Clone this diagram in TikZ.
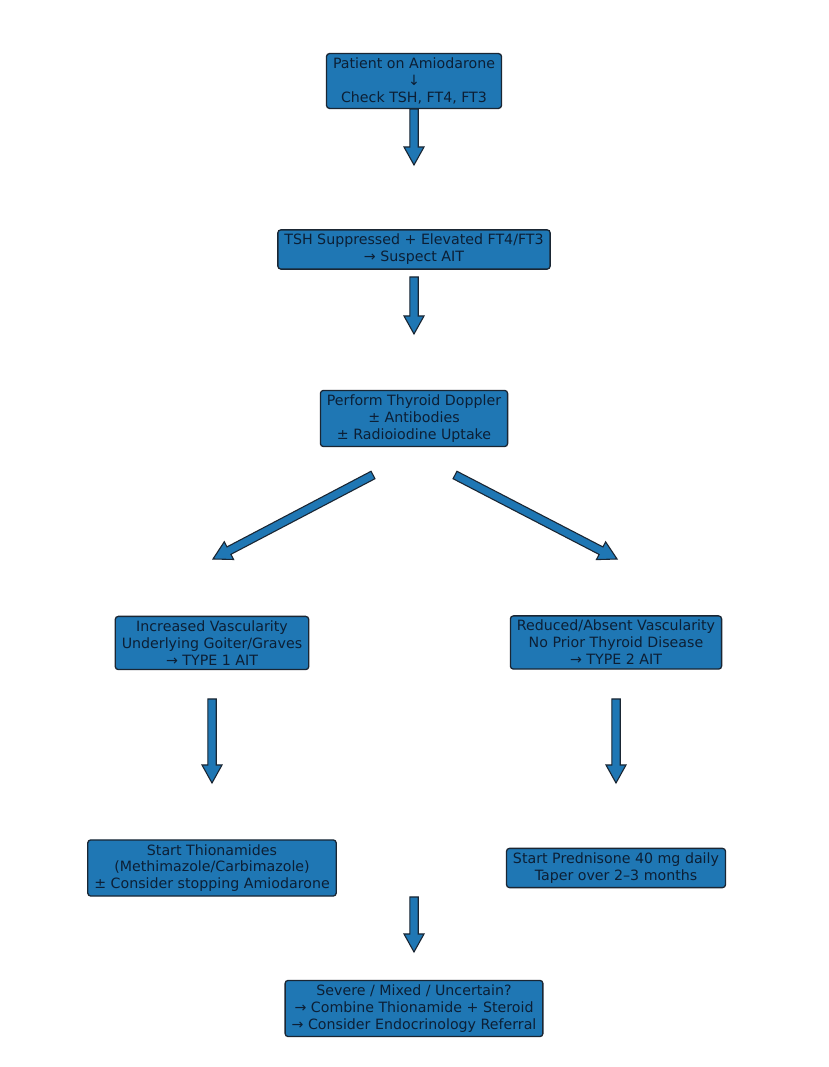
\documentclass[tikz,border=0pt]{standalone}
\usepackage{fontspec}
\setmainfont{DejaVu Sans}
\usetikzlibrary{calc}
\definecolor{boxblue}{HTML}{1F77B4}
\definecolor{edgecol}{HTML}{1A2633}
\definecolor{txtcol}{HTML}{0C1F35}
\tikzset{
  flowbox/.style={draw=edgecol, fill=boxblue, line width=1.3pt, rounded corners=3pt,
    align=center, text=txtcol, font=\fontsize{14.2}{16.9}\selectfont,
    inner xsep=6.5pt, inner ysep=4.3pt},
  blockarrow/.style={draw=edgecol, fill=boxblue, line width=1.1pt, line join=miter}
}
\newcommand\flowarrow[2]{%
  \coordinate (fah) at ($(#2)!18pt!(#1)$);
  \path[blockarrow] ($(#1)!4.2pt!90:(#2)$) -- ($(fah)!4.2pt!90:(#2)$) -- ($(fah)!10pt!90:(#2)$)
    -- (#2) -- ($(fah)!10pt!-90:(#2)$) -- ($(fah)!4.2pt!-90:(#2)$) -- ($(#1)!4.2pt!-90:(#2)$) -- cycle;
}
\begin{document}
\begin{tikzpicture}[x=1pt,y=1pt]
\useasboundingbox[fill=white] (0,0) rectangle (828,1067);

\node[flowbox] (n1) at (414,986) {Patient on Amiodarone\\↓\\Check TSH, FT4, FT3};
\node[flowbox] (n2) at (414,817.5) {TSH Suppressed + Elevated FT4/FT3\\→ Suspect AIT};
\node[flowbox] (n3) at (414,648.5) {Perform Thyroid Doppler\\± Antibodies\\± Radioiodine Uptake};
\node[flowbox] (n4) at (212,424) {Increased Vascularity\\Underlying Goiter/Graves\\→ TYPE 1 AIT};
\node[flowbox] (n5) at (616,424.5) {Reduced/Absent Vascularity\\No Prior Thyroid Disease\\→ TYPE 2 AIT};
\node[flowbox] (n6) at (212,199) {Start Thionamides\\(Methimazole/Carbimazole)\\± Consider stopping Amiodarone};
\node[flowbox] (n7) at (616,199) {Start Prednisone 40 mg daily\\Taper over 2–3 months};
\node[flowbox] (n8) at (414,58.5) {Severe / Mixed / Uncertain?\\→ Combine Thionamide + Steroid\\→ Consider Endocrinology Referral};

\coordinate (a1s) at (414,958);   \coordinate (a1e) at (414,902);
\coordinate (a2s) at (414,790);   \coordinate (a2e) at (414,733);
\coordinate (a3s) at (373,592);   \coordinate (a3e) at (213,508);
\coordinate (a4s) at (455,592);   \coordinate (a4e) at (617,508);
\coordinate (a5s) at (212,368);   \coordinate (a5e) at (212,284);
\coordinate (a6s) at (616,368);   \coordinate (a6e) at (616,284);
\coordinate (a7s) at (414,170);   \coordinate (a7e) at (414,115);

\flowarrow{a1s}{a1e}
\flowarrow{a2s}{a2e}
\flowarrow{a3s}{a3e}
\flowarrow{a4s}{a4e}
\flowarrow{a5s}{a5e}
\flowarrow{a6s}{a6e}
\flowarrow{a7s}{a7e}
\end{tikzpicture}
\end{document}
